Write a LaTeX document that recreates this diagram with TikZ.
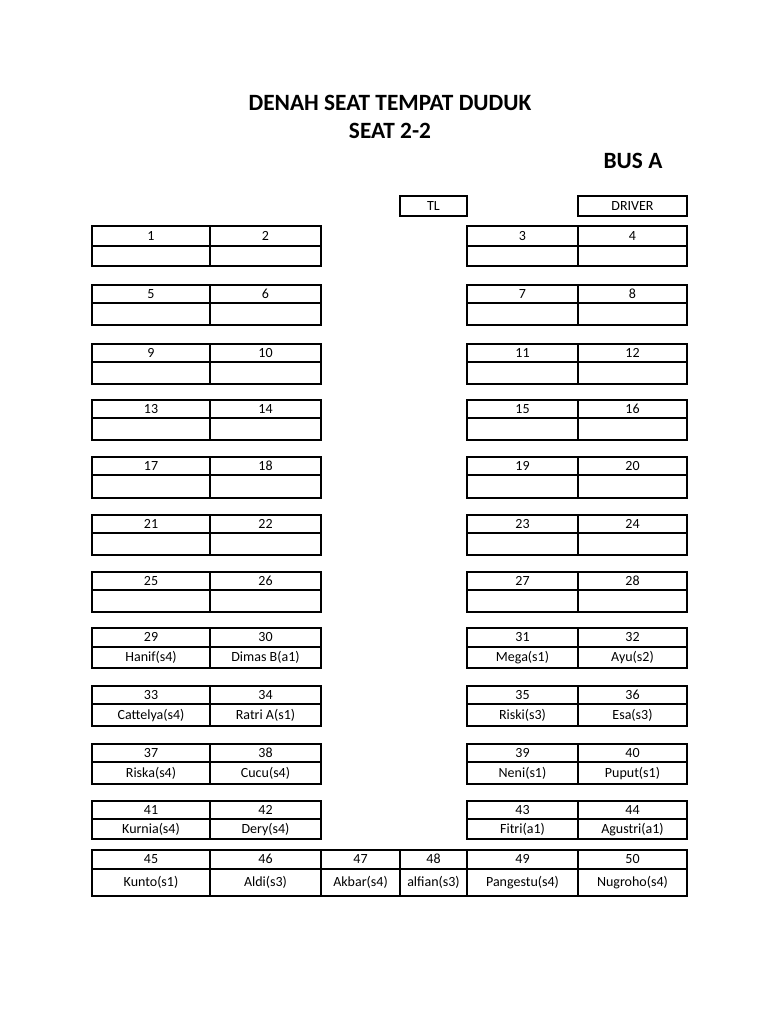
\documentclass[tikz,border=0pt]{standalone}
\usepackage{fontspec}
\setmainfont{Carlito}
\newcommand\seatcell[6]{%
  \node[cell, minimum width={(#3-#2)*0.75pt}, minimum height={(#5-#4)*0.75pt}] (#1) at ({(#2+#3)/2},{(#4+#5)/2}) {#6};}
\begin{document}
\begin{tikzpicture}[x=0.75pt,y=-0.75pt,
  cell/.style={draw, line width=0.9pt, inner sep=0pt, outer sep=0pt, text height=7.6pt, text depth=1.4pt, font=\fontsize{10.5}{12}\selectfont},
  titletext/.style={font=\fontsize{17.5}{20}\selectfont\bfseries}]
\useasboundingbox (0,0) rectangle (768,1024);
\fill[white] (0,0) rectangle (768,1024);
\node[titletext] (title) at (390,103) {DENAH SEAT TEMPAT DUDUK};
\node[titletext] (sub) at (390,131) {SEAT 2-2};
\node[titletext] (bus) at (633,161) {BUS A};
\seatcell{tl}{400}{467}{196}{216}{TL}
\seatcell{driver}{578}{687}{196}{216}{DRIVER}
\foreach \t/\m/\b/\na/\nb/\nc/\nd/\pa/\pb/\pc/\pd in {
  226/246/266/1/2/3/4/{}/{}/{}/{},
  285/303/325/5/6/7/8/{}/{}/{}/{},
  344/362/384/9/10/11/12/{}/{}/{}/{},
  400/418/440/13/14/15/16/{}/{}/{}/{},
  457/475/498/17/18/19/20/{}/{}/{}/{},
  515/533/555/21/22/23/24/{}/{}/{}/{},
  572/590/612/25/26/27/28/{}/{}/{}/{},
  628/647/668/29/30/31/32/{Hanif(s4)}/{Dimas B(a1)}/{Mega(s1)}/{Ayu(s2)},
  686/704/726/33/34/35/36/{Cattelya(s4)}/{Ratri A(s1)}/{Riski(s3)}/{Esa(s3)},
  744/762/784/37/38/39/40/{Riska(s4)}/{Cucu(s4)}/{Neni(s1)}/{Puput(s1)},
  801/819/839/41/42/43/44/{Kurnia(s4)}/{Dery(s4)}/{Fitri(a1)}/{Agustri(a1)}}{
  \seatcell{n\na}{92}{210}{\t}{\m}{\na}
  \seatcell{n\nb}{210}{321}{\t}{\m}{\nb}
  \seatcell{n\nc}{467}{578}{\t}{\m}{\nc}
  \seatcell{n\nd}{578}{687}{\t}{\m}{\nd}
  \seatcell{p\na}{92}{210}{\m}{\b}{\pa}
  \seatcell{p\nb}{210}{321}{\m}{\b}{\pb}
  \seatcell{p\nc}{467}{578}{\m}{\b}{\pc}
  \seatcell{p\nd}{578}{687}{\m}{\b}{\pd}
}
\foreach \xa/\xb/\n/\p in {92/210/45/{Kunto(s1)}, 210/321/46/{Aldi(s3)}, 321/400/47/{Akbar(s4)}, 400/467/48/{alfian(s3)}, 467/578/49/{Pangestu(s4)}, 578/687/50/{Nugroho(s4)}}{
  \seatcell{n\n}{\xa}{\xb}{850}{869}{\n}
  \seatcell{p\n}{\xa}{\xb}{869}{896}{\p}
}
\end{tikzpicture}
\end{document}
